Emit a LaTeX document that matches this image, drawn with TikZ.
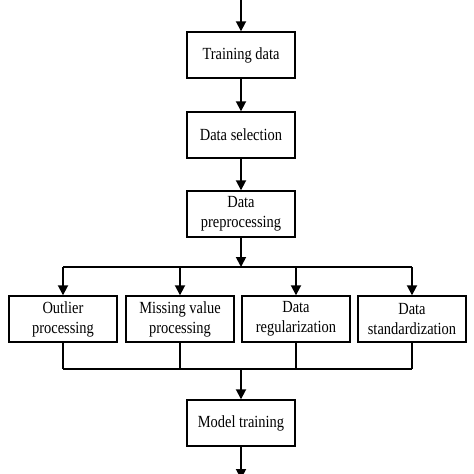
\documentclass[tikz,border=0pt]{standalone}
\usepackage{fontspec}
\setmainfont[FakeStretch=0.85]{Liberation Serif}
\usetikzlibrary{arrows.meta}
\begin{document}
\begin{tikzpicture}[x=1pt,y=-1pt,
  box/.style={draw, line width=1.4pt, minimum width=108pt, minimum height=46pt, inner sep=0pt, align=center, font=\fontsize{17}{20}\selectfont},
  arr/.style={line width=1.8pt, -{Triangle[length=10pt,width=10pt]}},
  ln/.style={line width=1.4pt}]
\clip (0,0) rectangle (474,474);
\useasboundingbox (0,0) rectangle (474,474);
\coordinate (top) at (241,0);
\coordinate (bot) at (241,479);
\node[box] (train) at (241,55) {Training data};
\node[box] (sel) at (241,135) {Data selection};
\node[box] (pre) at (241,214) {Data\\preprocessing};
\coordinate (bus1) at (241,267);
\node[box] (boxA) at (63,319) {Outlier\\processing};
\node[box] (boxB) at (180,319) {Missing value\\processing};
\node[box] (boxC) at (296,319) {Data\\regularization};
\node[box] (boxD) at (412,319) {Data\\standardization};
\coordinate (bus2) at (241,369);
\node[box] (mt) at (241,423) {Model training};
\draw[arr] (top) -- (train);
\draw[arr] (train) -- (sel);
\draw[arr] (sel) -- (pre);
\draw[arr] (pre) -- (bus1);
\draw[ln] (boxA.north |- bus1) -- (boxD.north |- bus1);
\draw[arr] (boxA.north |- bus1) -- (boxA.north);
\draw[arr] (boxB.north |- bus1) -- (boxB.north);
\draw[arr] (boxC.north |- bus1) -- (boxC.north);
\draw[arr] (boxD.north |- bus1) -- (boxD.north);
\draw[ln] (boxA.south) -- (boxA.south |- bus2);
\draw[ln] (boxB.south) -- (boxB.south |- bus2);
\draw[ln] (boxC.south) -- (boxC.south |- bus2);
\draw[ln] (boxD.south) -- (boxD.south |- bus2);
\draw[ln] (boxA.south |- bus2) -- (boxD.south |- bus2);
\draw[arr] (bus2) -- (mt);
\draw[arr] (mt) -- (bot);
\end{tikzpicture}
\end{document}
